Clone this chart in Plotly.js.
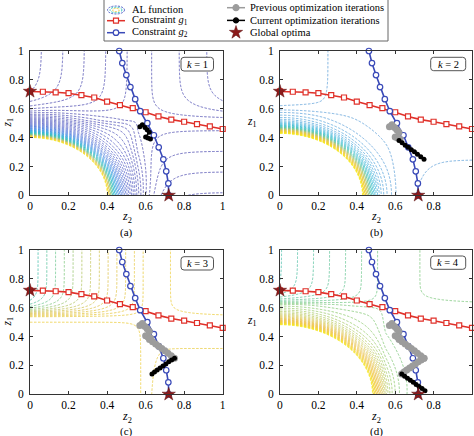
<!DOCTYPE html>
<html>
<head>
<meta charset="utf-8">
<script src="https://cdn.plot.ly/plotly-3.0.1.min.js"></script>
<style>
  html, body { margin: 0; padding: 0; background: #ffffff; }
  #chart { width: 474px; height: 436px; }
</style>
</head>
<body>
<div id="chart"></div>
<script>
// ---------------- data ----------------
// Constraint g1 (red), sampled along z2
const g1Z2 = [0, 0.0667, 0.1333, 0.2, 0.2667, 0.3333, 0.4, 0.4667, 0.5333, 0.6, 0.6667, 0.7333, 0.8, 0.8667, 0.9333, 1];
const g1Z1 = [0.72, 0.718, 0.714, 0.708, 0.694, 0.678, 0.65, 0.625, 0.604, 0.576, 0.547, 0.525, 0.51, 0.494, 0.478, 0.46];
// Constraint g2 (blue), sampled along z1
const g2Z1 = [1, 0.9167, 0.8333, 0.75, 0.6667, 0.5833, 0.5, 0.4167, 0.3333, 0.25, 0.1667, 0.0833, 0];
const g2Z2 = [0.463, 0.479, 0.5, 0.521, 0.546, 0.572, 0.609, 0.643, 0.668, 0.692, 0.707, 0.718, 0.72];
// Global optima
const optZ2 = [0, 0.72];
const optZ1 = [0.72, 0];
// Optimization iterations of each AL step k
const iterZ2 = [
  [0.57, 0.583, 0.597, 0.608, 0.619, 0.6, 0.612, 0.625],
  [0.62, 0.636, 0.652, 0.668, 0.684, 0.7, 0.716, 0.733, 0.75],
  [0.75, 0.735, 0.72, 0.705, 0.69, 0.675, 0.66, 0.646, 0.633],
  [0.634, 0.649, 0.664, 0.679, 0.694, 0.709, 0.724, 0.74, 0.755]
];
const iterZ1 = [
  [0.476, 0.49, 0.47, 0.455, 0.437, 0.405, 0.398, 0.39],
  [0.38, 0.365, 0.348, 0.333, 0.317, 0.302, 0.285, 0.268, 0.25],
  [0.25, 0.238, 0.225, 0.21, 0.197, 0.183, 0.168, 0.154, 0.14],
  [0.14, 0.126, 0.112, 0.097, 0.083, 0.068, 0.054, 0.04, 0.025]
];
const panelK = [1, 2, 3, 4];
const panelTag = ['(a)', '(b)', '(c)', '(d)'];
const tickVals = [0, 0.2, 0.4, 0.6, 0.8, 1];
const tickText = ['0', '0.2', '0.4', '0.6', '0.8', '1'];

// AL surface per step k: steep ring around the origin plus a saddle term
const arcRadius = [0.40, 0.43, 0.0, 0.48];
const arcHeight = [33, 15, 0, 25];
const arcDecay  = [0.075, 0.05, 0.05, 0.055];
const saddleZ2  = [0.56, 0.62, 0.61, 0.55];
const saddleZ1  = [0.52, 0.60, 0.535, 0.62];
const gainUL  = [9, 2.7, 22, 12];
const widthUL = [0.08, 0.02, 0.07, 0.05];
const gainLL  = [3, 0.6, 1.2, 1.5];
const widthLL = [0.06, 0.03, 0.08, 0.06];
const gainUR  = [7, 1.5, 4.2, 2.8];
const widthUR = [0.12, 0.1, 0.05, 0.05];
const gainLR  = [7, 2.82, 2.3, 0.7];
const widthLR = [0.08, 0.12, 0.05, 0.05];
// contour level sets per panel: [start, end, step, colour map]
const ringColorsA = [[0, '#4b4ab0'], [0.271, '#4a58c6'], [0.443, '#3573e0'], [0.529, '#2590dd'], [0.614, '#14a9d2'],
  [0.7, '#22bbb4'], [0.786, '#6dc584'], [0.857, '#c9bf52'], [0.914, '#f0c93a'], [1, '#f6e61a']];
const ringColorsB = [[0, '#5c9fd8'], [0.15, '#4aa3dc'], [0.25, '#27aed6'], [0.35, '#1eb8c4'], [0.45, '#4cc29a'],
  [0.55, '#a8c464'], [0.683, '#e6c43c'], [0.85, '#f7d52a'], [1, '#f6ec16']];
const ringColorsC = [[0, '#3fbda8'], [0.2, '#70c680'], [0.4, '#b5c35a'], [0.6, '#dcc045'], [1, '#eccb36']];
const ringColorsD = [[0, '#45bca8'], [0.14, '#62c48c'], [0.266, '#86c96e'], [0.39, '#b4c858'], [0.516, '#dcc448'],
  [0.672, '#edbb36'], [0.828, '#f3cc2c'], [1, '#f6e81a']];
const flat = c => [[0, c], [1, c]];
const levelSets = [
  [[0.5, 35.5, 1, ringColorsA], [-4.5, -0.5, 1, flat('#4b4ab0')]],
  [[0.75, 15.75, 0.5, ringColorsB], [-1, -0.9, 1, flat('#5c9fd8')]],
  [[-12.5, 0.5, 1, ringColorsC]],
  [[-6.5, 25.5, 1, ringColorsD]]
];

// ---------------- styles ----------------
const RED = '#e0312a', BLUE = '#3a4ab8', STAR = '#8b1a1a', GRAY = '#9c9c9c', FRAME = '#333333';
const SERIF = 'Liberation Serif';
const W = 474, H = 436;
const px = v => v / W;
const py = v => 1 - v / H;

const gridN = 241;
const grid = Array.from({ length: gridN }, (_, i) => i / (gridN - 1));

function alSurface(i) {
  const z = [];
  for (let r = 0; r < gridN; r++) {
    const y = grid[r];
    const row = [];
    for (let c = 0; c < gridN; c++) {
      const x = grid[c];
      const u = x - saddleZ2[i], v = y - saddleZ1[i];
      let s;
      if (u <= 0 && v >= 0) s = gainUL[i] * u * Math.tanh(v / widthUL[i]);
      else if (u <= 0) s = gainLL[i] * Math.tanh(-u / widthLL[i]) * Math.tanh(-v / widthLL[i]);
      else if (v >= 0) s = gainUR[i] * u * Math.tanh(v / widthUR[i]);
      else s = gainLR[i] * v * Math.tanh(u / widthLR[i]);
      const ring = arcHeight[i] * Math.exp(-(Math.hypot(x, y) - arcRadius[i]) / arcDecay[i]);
      row.push(ring + s);
    }
    z.push(row);
  }
  return z;
}

// ---------------- panels ----------------
const xDom = [[0.0633, 0.4698], [0.5907, 0.9958], [0.0633, 0.4698], [0.5907, 0.9958]];
const yDom = [[0.5518, 0.883], [0.5518, 0.883], [0.0956, 0.4266], [0.0956, 0.4266]];

const traces = [];
const layout = {
  width: W, height: H,
  margin: { l: 0, r: 0, t: 0, b: 0 },
  paper_bgcolor: '#ffffff',
  plot_bgcolor: 'rgba(0,0,0,0)',
  showlegend: false,
  hovermode: false,
  font: { family: SERIF, color: '#000000' },
  shapes: [],
  annotations: []
};

function axisBase(domain, anchor) {
  return {
    domain, anchor, range: [0, 1], autorange: false, fixedrange: true,
    showgrid: false, zeroline: false,
    showline: true, mirror: 'ticks', linecolor: FRAME, linewidth: 1,
    ticks: 'inside', ticklen: 3, tickwidth: 1, tickcolor: FRAME,
    tickmode: 'array', tickvals: tickVals, ticktext: tickText,
    tickfont: { family: SERIF, size: 11.5, color: '#000000' }
  };
}

for (let i = 0; i < 4; i++) {
  const sfx = i === 0 ? '' : String(i + 1);
  const xa = 'x' + sfx, ya = 'y' + sfx;
  layout['xaxis' + sfx] = axisBase(xDom[i], ya);
  layout['yaxis' + sfx] = Object.assign(axisBase(yDom[i], xa), { ticklabelstandoff: 3 });

  // AL function contours
  const z = alSurface(i);
  levelSets[i].forEach(ls => {
    traces.push({
      type: 'contour', x: grid, y: grid, z: z, xaxis: xa, yaxis: ya,
      autocontour: false,
      contours: { start: ls[0], end: ls[1], size: ls[2], coloring: 'lines', showlabels: false },
      colorscale: ls[3], zauto: false, zmin: ls[0], zmax: ls[1],
      line: { width: 0.8, dash: '2.5px,1.5px', smoothing: 0.6 },
      showscale: false, hoverinfo: 'skip'
    });
  });

  // constraints
  traces.push({
    type: 'scatter', mode: 'lines+markers', x: g1Z2, y: g1Z1, xaxis: xa, yaxis: ya,
    line: { color: RED, width: 1.6 },
    marker: { symbol: 'square', size: 5, color: '#ffffff', line: { color: RED, width: 1.2 } },
    cliponaxis: false, hoverinfo: 'skip'
  });
  traces.push({
    type: 'scatter', mode: 'lines+markers', x: g2Z2, y: g2Z1, xaxis: xa, yaxis: ya,
    line: { color: BLUE, width: 1.6 },
    marker: { symbol: 'circle', size: 5.5, color: '#ffffff', line: { color: BLUE, width: 1.2 } },
    cliponaxis: false, hoverinfo: 'skip'
  });

  // previous iterations (all earlier steps)
  if (i > 0) {
    const prevX = [].concat(...iterZ2.slice(0, i));
    const prevY = [].concat(...iterZ1.slice(0, i));
    traces.push({
      type: 'scatter', mode: 'lines+markers', x: prevX, y: prevY, xaxis: xa, yaxis: ya,
      line: { color: GRAY, width: 1.5 },
      marker: { symbol: 'circle', size: 7, color: GRAY },
      hoverinfo: 'skip'
    });
  }
  // current iterations
  traces.push({
    type: 'scatter', mode: 'lines+markers', x: iterZ2[i], y: iterZ1[i], xaxis: xa, yaxis: ya,
    line: { color: '#000000', width: 1.5 },
    marker: { symbol: 'circle', size: 5, color: '#000000' },
    hoverinfo: 'skip'
  });
  // global optima
  traces.push({
    type: 'scatter', mode: 'markers', x: optZ2, y: optZ1, xaxis: xa, yaxis: ya,
    marker: { symbol: 'star', size: 10, color: STAR, line: { color: '#5a0f0f', width: 0.5 } },
    cliponaxis: false, hoverinfo: 'skip'
  });
}

// ---------------- labels ----------------
const colCenter = [126.5, 376, 126.5, 376];
const xTitleY = [217, 217, 417, 417];
const capY = [232.5, 232.5, 431.5, 431.5];
const yTitlePos = [[7.5, 123, -90], [252, 121.5, 0], [7.5, 322, -90], [252, 320.5, 0]];
const kBox = [[181, 57.3, 213.5, 71], [430.7, 57.3, 465.7, 70.7], [181, 256.7, 213.5, 270], [430.7, 256, 465.7, 269.3]];

function roundRect(x0, y0, x1, y1, r) {
  const a = px(x0), b = px(x1), t = py(y0), btm = py(y1);
  const rx = r / W, ry = r / H;
  return `M${a + rx},${t} L${b - rx},${t} Q${b},${t} ${b},${t - ry} L${b},${btm + ry} Q${b},${btm} ${b - rx},${btm} ` +
         `L${a + rx},${btm} Q${a},${btm} ${a},${btm + ry} L${a},${t - ry} Q${a},${t} ${a + rx},${t} Z`;
}
function label(xp, yp, text, size, extra) {
  return Object.assign({
    xref: 'paper', yref: 'paper', x: px(xp), y: py(yp), xanchor: 'center', yanchor: 'middle',
    text, showarrow: false, font: { family: SERIF, size, color: '#000000' }
  }, extra || {});
}

for (let i = 0; i < 4; i++) {
  layout.annotations.push(label(colCenter[i], xTitleY[i], '<i>z</i><sub>2</sub>', 12));
  layout.annotations.push(label(colCenter[i], capY[i], panelTag[i], 11));
  layout.annotations.push(label(yTitlePos[i][0], yTitlePos[i][1], '<i>z</i><sub>1</sub>', 11.5, { textangle: yTitlePos[i][2] }));
  const kb = kBox[i];
  layout.shapes.push({
    type: 'path', xref: 'paper', yref: 'paper', path: roundRect(kb[0], kb[1], kb[2], kb[3], 3),
    line: { color: '#555555', width: 1 }, fillcolor: '#ffffff', layer: 'above'
  });
  layout.annotations.push(label((kb[0] + kb[2]) / 2, (kb[1] + kb[3]) / 2, '<i>k</i> = ' + panelK[i], 10.5));
}

// ---------------- legend ----------------
layout.shapes.push({
  type: 'rect', xref: 'paper', yref: 'paper', x0: px(104), x1: px(388), y0: py(41), y1: py(-2),
  line: { color: '#666666', width: 1 }, fillcolor: 'rgba(0,0,0,0)', layer: 'below'
});
const legendRows = [10, 20.7, 32.7];
const legendLeftText = ['AL function', 'Constraint <i>g</i><sub>1</sub>', 'Constraint <i>g</i><sub>2</sub>'];
const legendRightRows = [7.7, 20.4, 32.5];
const legendRightText = ['Previous optimization iterations', 'Current optimization iterations', 'Global optima'];
legendLeftText.forEach((t, j) => layout.annotations.push(label(129.5, legendRows[j], t, 10.5, { xanchor: 'left' })));
legendRightText.forEach((t, j) => layout.annotations.push(label(248, legendRightRows[j], t, 10.5, { xanchor: 'left' })));
// AL function swatch: nested dashed ellipses
[[8.5, 4, '#4a58c6'], [6, 2.8, '#22bbb4'], [3.5, 1.6, '#e8c83a']].forEach(e => layout.shapes.push({
  type: 'circle', xref: 'paper', yref: 'paper', layer: 'above',
  x0: px(116 - e[0]), x1: px(116 + e[0]), y0: py(10 + e[1]), y1: py(10 - e[1]),
  line: { color: e[2], width: 0.9, dash: '2px,1.2px' }
}));
// swatch overlay axis in pixel units
layout.xaxis5 = { domain: [0, 1], anchor: 'y5', range: [0, W], visible: false, fixedrange: true };
layout.yaxis5 = { domain: [0, 1], anchor: 'x5', range: [H, 0], visible: false, fixedrange: true };
const swatches = [
  { x: [107, 125], y: [20.7, 20.7], c: RED, sym: 'square', fill: '#ffffff', size: 5, xm: 116 },
  { x: [107, 125], y: [32.7, 32.7], c: BLUE, sym: 'circle', fill: '#ffffff', size: 5.5, xm: 116 },
  { x: [227, 245], y: [7.7, 7.7], c: GRAY, sym: 'circle', fill: GRAY, size: 6, xm: 236 },
  { x: [227, 245], y: [20.4, 20.4], c: '#000000', sym: 'circle', fill: '#000000', size: 5, xm: 236 }
];
swatches.forEach(s => {
  traces.push({ type: 'scatter', mode: 'lines', x: s.x, y: s.y, xaxis: 'x5', yaxis: 'y5',
    line: { color: s.c, width: 1.5 }, hoverinfo: 'skip', cliponaxis: false });
  traces.push({ type: 'scatter', mode: 'markers', x: [s.xm], y: [s.y[0]], xaxis: 'x5', yaxis: 'y5',
    marker: { symbol: s.sym, size: s.size, color: s.fill, line: { color: s.c, width: 1.2 } },
    hoverinfo: 'skip', cliponaxis: false });
});
traces.push({ type: 'scatter', mode: 'markers', x: [236], y: [32.5], xaxis: 'x5', yaxis: 'y5',
  marker: { symbol: 'star', size: 10, color: STAR, line: { color: '#5a0f0f', width: 0.5 } },
  hoverinfo: 'skip', cliponaxis: false });

Plotly.newPlot('chart', traces, layout, { staticPlot: true, displayModeBar: false });
</script>
</body>
</html>
